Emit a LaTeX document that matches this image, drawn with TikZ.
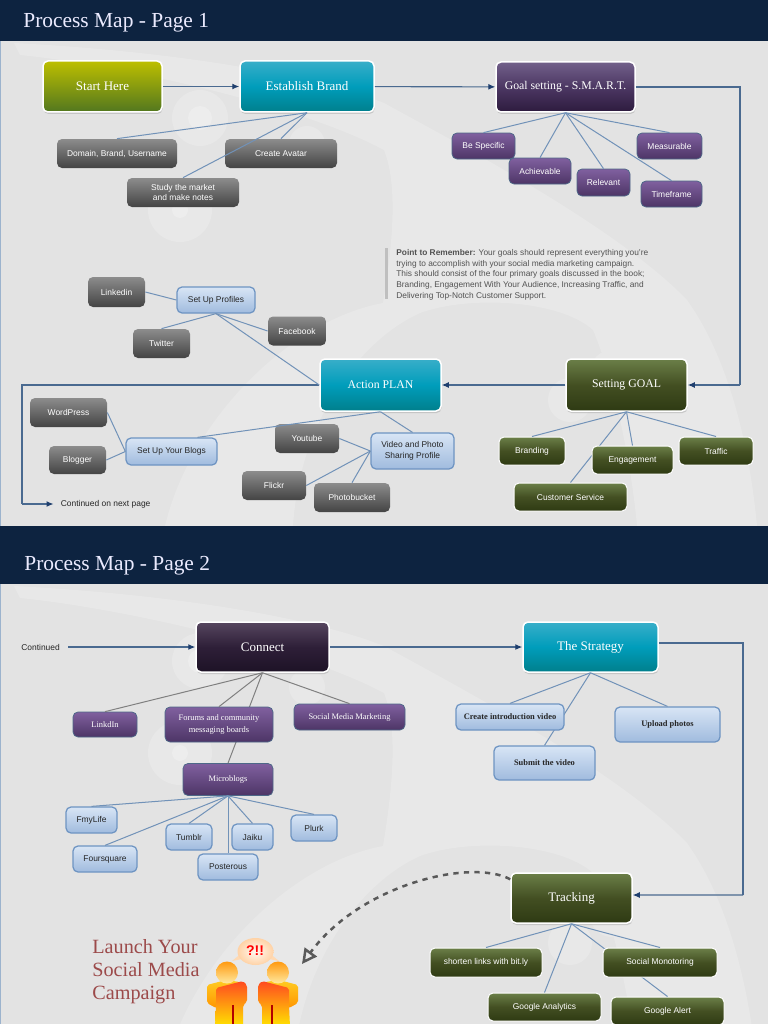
\documentclass[tikz,border=0pt]{standalone}
\usepackage{fontspec}
\setmainfont{Liberation Serif}
\setsansfont{Liberation Sans}
\usetikzlibrary{arrows.meta,shadows}
\definecolor{bandnavy}{HTML}{0D2340}
\definecolor{panelgray}{HTML}{E3E3E3}
\definecolor{swirlgray}{HTML}{E8E8E8}
\definecolor{ringgray}{HTML}{EDEDED}
\definecolor{linkblue}{HTML}{7192B8}
\definecolor{arrowblue}{HTML}{4A6A90}
\definecolor{tipblue}{HTML}{1F3F6E}
\tikzset{
    boxsize/.style 2 args={minimum width=#1*.02cm, minimum height=#2*.02cm, inner sep=0pt},
    bigbox/.style={rounded corners=.1cm, draw=white, line width=.03cm, drop shadow={shadow xshift=.01cm, shadow yshift=-.04cm, opacity=.3},
        font=\fontsize{7.4}{9}\selectfont, text=white, align=center},
    tightlabel/.style={font=\fontsize{6.7}{8}\selectfont},
    smallbox/.style={rounded corners=.1cm, font=\sffamily\fontsize{4.8}{6}\selectfont, text=white, align=center},
    limebox/.style={bigbox, top color=limetop, bottom color=limebot},
    tealbox/.style={bigbox, top color=tealtop, bottom color=tealbot, middle color=tealmid},
    plumbox/.style={bigbox, top color=plumtop, bottom color=plumbot, middle color=plummid},
    darkplumbox/.style={bigbox, top color=dplumtop, bottom color=dplumbot, middle color=dplummid},
    mossbox/.style={bigbox, top color=mosstop, bottom color=mossbot, middle color=mossmid},
    grayitem/.style={smallbox, top color=graytop, bottom color=graybot},
    mossitem/.style={smallbox, top color=mosstop, bottom color=mossbot, middle color=mossmid, draw=white, line width=.02cm},
    plumitem/.style={smallbox, top color=splumtop, bottom color=splumbot, draw=skyedge!70!black, line width=.015cm},
    skyitem/.style={smallbox, text=black!85, top color=skytop, bottom color=skybot, draw=skyedge, line width=.025cm},
    serifitem/.style={font=\fontsize{4.8}{6.4}\selectfont},
    link/.style={linkblue, line width=.02cm},
    graylink/.style={black!50, line width=.02cm},
    flow/.style={arrowblue, line width=.022cm, -{Latex[length=.14cm,width=.12cm,color=tipblue]}},
    elbow/.style={arrowblue, line width=.026cm},
    pagetitle/.style={anchor=west, text=white!92!blue, font=\fontsize{12.2}{15}\selectfont, inner sep=0pt},
    plainnote/.style={anchor=west, inner sep=0pt, text=black!85, font=\sffamily\fontsize{4.8}{6}\selectfont},
}
\definecolor{limetop}{HTML}{BDBF00}
\definecolor{limebot}{HTML}{52771F}
\definecolor{tealtop}{HTML}{38AEC9}
\definecolor{tealmid}{HTML}{009DBB}
\definecolor{tealbot}{HTML}{007F8C}
\definecolor{plumtop}{HTML}{72608A}
\definecolor{plummid}{HTML}{4C3763}
\definecolor{plumbot}{HTML}{2D1B3E}
\definecolor{dplumtop}{HTML}{56465F}
\definecolor{dplummid}{HTML}{2E1F38}
\definecolor{dplumbot}{HTML}{1D1226}
\definecolor{mosstop}{HTML}{6B7F48}
\definecolor{mossmid}{HTML}{434F22}
\definecolor{mossbot}{HTML}{2E3A13}
\definecolor{graytop}{HTML}{8C8C8C}
\definecolor{graybot}{HTML}{444444}
\definecolor{splumtop}{HTML}{80609F}
\definecolor{splumbot}{HTML}{4D3566}
\definecolor{skytop}{HTML}{D8E5F5}
\definecolor{skybot}{HTML}{A0BBDE}
\definecolor{skyedge}{HTML}{6E94C2}
\definecolor{launchred}{HTML}{9C4A4A}
\definecolor{bodyred}{HTML}{FF4A20}
\definecolor{bodymid}{HTML}{FF8A1A}
\definecolor{bodyyellow}{HTML}{FFE600}
\definecolor{armtop}{HTML}{FFCC22}
\definecolor{armbot}{HTML}{FF9500}
\definecolor{headtop}{HTML}{FF9A10}
\definecolor{headbot}{HTML}{FFE9A0}
\newcommand{\panelart}[1]{
    \begin{scope}[shift={(0,#1)}]
        \clip (0,41) rectangle (768,526);
        \fill [panelgray] (0,41) rectangle (768,526);
        % big swoosh
        \fill [swirlgray] (14,43) .. controls (150,50) and (300,70) .. (384,103)
            .. controls (470,150) and (620,230) .. (687,300)
            .. controls (730,360) and (750,450) .. (757,526) -- (637,526)
            .. controls (630,450) and (610,370) .. (593,330)
            .. controls (560,300) and (470,295) .. (420,313)
            .. controls (360,340) and (300,420) .. (293,526) -- (165,526)
            .. controls (190,420) and (290,320) .. (383,303)
            .. controls (390,260) and (400,190) .. (384,150)
            .. controls (300,105) and (120,65) .. (20,55) -- cycle;
        % rings
        \fill [swirlgray] (200,118) circle [radius=28];
        \fill [ringgray] (200,118) circle [radius=12];
        \fill [swirlgray] (180,210) circle [radius=32];
        \fill [ringgray] (180,210) circle [radius=8];
        \fill [swirlgray] (307,144) circle [radius=18];
        \fill [swirlgray] (570,400) circle [radius=22];
        \fill [swirlgray] (612,372) circle [radius=22];
    \end{scope}
}
\newcommand{\personfig}[1]{
    \begin{scope}[#1]
        \shade [rounded corners=.04cm, top color=armtop, bottom color=armbot]
            (207,985) -- (226,980) -- (240,982) -- (240,1007) -- (216,1008) -- (207,1003) -- cycle;
        \shade [rounded corners=.04cm, top color=bodyred, middle color=bodymid, bottom color=bodyyellow]
            (216,988) -- (243,981) -- (247,985) -- (247,1002) -- (243,1005) -- (243,1027)
            -- (215,1027) -- (216,1005) -- cycle;
        \draw [red!70!black, line width=.05cm] (233,1005) -- (233,1027);
        \shade [top color=headtop, bottom color=headbot] (227,972.5) circle [radius=11];
    \end{scope}
}
\begin{document}
\begin{tikzpicture}[x=.02cm, y=-.02cm]
    \useasboundingbox (0,0) rectangle (768,1024);
    \panelart{0}
    \panelart{543}
    \fill [bandnavy] (0,0) rectangle (768,41);
    \fill [bandnavy] (0,526) rectangle (768,584);
    \fill [linkblue!70] (0,41) rectangle (1.2,526);
    \fill [linkblue!70] (0,584) rectangle (1.2,1024);

    % page 1
    \node [pagetitle] (titleone) at (23,23) {Process Map - Page 1};
    \node [limebox, boxsize={119}{51}] (start) at (102.5,86.5) {Start Here};
    \node [tealbox, boxsize={134}{51}] (brand) at (307,86.5) {Establish Brand};
    \node [plumbox, tightlabel, boxsize={139}{50}] (goal) at (565.5,87) {Goal setting - S.M.A.R.T.};
    \node [grayitem, boxsize={120}{29}] (domain) at (117,153.5) {Domain, Brand, Username};
    \node [grayitem, boxsize={112}{29}] (avatar) at (281,153.5) {Create Avatar};
    \node [grayitem, boxsize={112}{29}] (study) at (183,192.5) {Study the market\\and make notes};
    \node [plumitem, boxsize={63}{26}] (specific) at (483.5,146) {Be Specific};
    \node [plumitem, boxsize={62}{26}] (achievable) at (540,171) {Achievable};
    \node [plumitem, boxsize={53}{27}] (relevant) at (603.5,182.5) {Relevant};
    \node [plumitem, boxsize={65}{26}] (measurable) at (669.5,146) {Measurable};
    \node [plumitem, boxsize={61}{26}] (timeframe) at (671.5,194) {Timeframe};
    \draw [flow] (start) -- (brand);
    \draw [flow] (brand) -- (goal);
    \draw [link] (brand.south) -- (domain.north);
    \draw [link] (brand.south) -- (avatar.north);
    \draw [link] (brand.south) -- (study.north);
    \draw [link] (goal.south) -- (specific.north);
    \draw [link] (goal.south) -- (achievable.north);
    \draw [link] (goal.south) -- (relevant.north);
    \draw [link] (goal.south) -- (measurable.north);
    \draw [link] (goal.south) -- (timeframe.north);

    \fill [black!25] (385,248) rectangle (388,299);
    \node [anchor=north west, inner sep=0pt, align=left, text=black!68, font=\sffamily\fontsize{4.75}{6}\selectfont] (remember) at (396,249.5)
        {\textbf{Point to Remember:} Your goals should represent everything you're\\
        trying to accomplish with your social media marketing campaign.\\
        This should consist of the four primary goals discussed in the book;\\
        Branding, Engagement With Your Audience, Increasing Traffic, and\\
        Delivering Top-Notch Customer Support.};

    \node [tealbox, tightlabel, boxsize={121}{52}] (action) at (380.5,385) {Action PLAN};
    \node [mossbox, tightlabel, boxsize={121}{52}] (setting) at (626.5,385) {Setting GOAL};
    \node [grayitem, boxsize={57}{30}] (linkedin) at (116.5,292) {Linkedin};
    \node [skyitem, boxsize={78}{26}] (profiles) at (216,300) {Set Up Profiles};
    \node [grayitem, boxsize={58}{29}] (facebook) at (297,331) {Facebook};
    \node [grayitem, boxsize={57}{29}] (twitter) at (161.5,343.5) {Twitter};
    \node [grayitem, boxsize={77}{29}] (wordpress) at (68.5,412.5) {WordPress};
    \node [grayitem, boxsize={57}{28}] (blogger) at (77.5,460) {Blogger};
    \node [skyitem, boxsize={91}{27}] (blogs) at (171.5,451.5) {Set Up Your Blogs};
    \node [grayitem, boxsize={64}{29}] (youtube) at (307,438.5) {Youtube};
    \node [skyitem, boxsize={83}{36}] (video) at (412.5,451) {Video and Photo\\Sharing Profile};
    \node [grayitem, boxsize={64}{29}] (flickr) at (274,485.5) {Flickr};
    \node [grayitem, boxsize={76}{29}] (photobucket) at (352,497.5) {Photobucket};
    \node [plainnote] (nextpage) at (60.5,504) {Continued on next page};
    \coordinate (goalbend) at (740,385);
    \coordinate (nextbend) at (22,504);
    \draw [elbow] (goal.east) -| (goalbend);
    \draw [flow] (goalbend) -- (setting.east);
    \draw [flow] (setting.west) -- (action.east);
    \draw [elbow] (action.west) -| (nextbend);
    \draw [flow] (nextbend) -- ([xshift=-.14cm]nextpage.west);
    \draw [link] (linkedin.east) -- (profiles.west);
    \draw [link] (twitter.north) -- (profiles.south);
    \draw [link] (facebook.west) -- (profiles.south);
    \draw [link] (profiles.south) -- (action.west);
    \draw [link] (wordpress.east) -- (blogs.west);
    \draw [link] (blogger.east) -- (blogs.west);
    \draw [link] (action.south) -- ([xshift=.52cm]blogs.north);
    \draw [link] (action.south) -- (video.north);
    \draw [link] (youtube.east) -- (video.west);
    \draw [link] (flickr.east) -- (video.west);
    \draw [link] (photobucket.north) -- (video.west);

    \node [mossitem, boxsize={66}{28}] (branding) at (532,451) {Branding};
    \node [mossitem, boxsize={74}{28}] (traffic) at (716,451) {Traffic};
    \node [mossitem, boxsize={113}{28}] (customer) at (570.5,497) {Customer Service};
    \draw [link] (setting.south) -- (branding.north);
    \draw [link] (setting.south) -- (traffic.north);
    \draw [link] (setting.south) -- (customer.north);
    \node [mossitem, boxsize={81}{28}] (engagement) at (632.5,460) {Engagement};
    \draw [link] (setting.south) -- (engagement.north);

    % page 2
    \node [pagetitle] (titletwo) at (24,565.5) {Process Map - Page 2};
    \node [plainnote] (continued) at (21,647) {Continued};
    \node [darkplumbox, boxsize={133}{50}] (connect) at (262.5,647) {Connect};
    \node [tealbox, boxsize={135}{50}] (strategy) at (590.5,647) {The Strategy};
    \node [mossbox, boxsize={121}{50}] (tracking) at (571.5,898) {Tracking};
    \draw [flow] (continued.east) ++(.16cm,0) -- (connect.west);
    \draw [flow] (connect.east) -- (strategy.west);
    \coordinate (stratbend) at (743,895);
    \draw [elbow] ([yshift=.08cm]strategy.east) -| (stratbend);
    \draw [flow] (stratbend) -- ([yshift=.06cm]tracking.east);

    \node [plumitem, serifitem, boxsize={64}{25}] (linkdin) at (105,724.5) {LinkdIn};
    \node [plumitem, serifitem, boxsize={111}{26}] (socialmm) at (349.5,717) {Social Media Marketing};
    \node [plumitem, serifitem, boxsize={90}{32}] (microblogs) at (228,779.5) {Microblogs};
    \draw [graylink] (connect.south) -- (linkdin.north);
    \draw [graylink] (connect.south) -- (socialmm.north);
    \draw [graylink] (connect.south) -- (microblogs.north);
    \node [plumitem, serifitem, boxsize={108}{35}] (forums) at (219,724.5) {Forums and community\\messaging boards};
    \draw [graylink] (connect.south) -- (forums.north);

    \node [skyitem, boxsize={51}{26}] (fmylife) at (91.5,820) {FmyLife};
    \node [skyitem, boxsize={64}{26}] (foursquare) at (105,859) {Foursquare};
    \node [skyitem, boxsize={46}{26}] (tumblr) at (189,837) {Tumblr};
    \node [skyitem, boxsize={41}{26}] (jaiku) at (252.5,837) {Jaiku};
    \node [skyitem, boxsize={60}{26}] (posterous) at (228,867) {Posterous};
    \node [skyitem, boxsize={46}{26}] (plurk) at (314,828) {Plurk};
    \draw [link] (microblogs.south) -- (fmylife.north);
    \draw [link] (microblogs.south) -- (foursquare.north);
    \draw [link] (microblogs.south) -- (tumblr.north);
    \draw [link] (microblogs.south) -- (jaiku.north);
    \draw [link] (microblogs.south) -- (posterous.north);
    \draw [link] (microblogs.south) -- (plurk.north);

    \node [skyitem, serifitem, boxsize={101}{34}] (submit) at (544.5,763) {\textbf{Submit the video}};
    \node [skyitem, serifitem, boxsize={105}{35}] (upload) at (667.5,724.5) {\textbf{Upload photos}};
    \draw [link] (strategy.south) -- (submit.north);
    \draw [link] (strategy.south) -- (upload.north);
    \node [skyitem, serifitem, boxsize={108}{26}] (createvid) at (510,717) {\textbf{Create introduction video}};
    \draw [link] (strategy.south) -- (createvid.north);

    \node [mossitem, boxsize={112}{29}] (shorten) at (486,962.5) {shorten links with bit.ly};
    \node [mossitem, boxsize={113}{28}] (analytics) at (544.5,1007) {Google Analytics};
    \node [mossitem, boxsize={113}{28}] (alert) at (667.5,1011) {Google Alert};
    \draw [link] (tracking.south) -- (shorten.north);
    \draw [link] (tracking.south) -- (analytics.north);
    \draw [link] (tracking.south) -- (alert.north);
    \node [mossitem, boxsize={114}{29}] (monitoring) at (660,962.5) {Social Monotoring};
    \draw [link] (tracking.south) -- (monitoring.north);

    % launch corner
    \node [anchor=north west, inner sep=0pt, align=left, text=launchred, font=\fontsize{11.5}{13.1}\selectfont] (launch) at (92,939)
        {Launch Your\\Social Media\\Campaign};
    \coordinate (dashend) at (302,964);
    \draw [black!65, dashed, line width=.05cm, -{Triangle[open,length=.3cm,width=.3cm]}]
        ([yshift=-.14cm]tracking.north west) .. controls (470,858) and (360,885) .. (dashend);
    \personfig{}
    \personfig{shift={(505,0)}, xscale=-1}
    \fill [orange!30] (232,961) -- (243,952) -- (268,952) -- (279,961) -- (264,958) -- (247,958) -- cycle;
    \shade [inner color=orange!5, outer color=orange!35] (255.5,951.5) ellipse [x radius=18, y radius=13.5];
    \node [text=red, inner sep=0pt, font=\sffamily\bfseries\fontsize{8}{9}\selectfont] (puzzled) at (255,950.5) {?!!};
\end{tikzpicture}
\end{document}
